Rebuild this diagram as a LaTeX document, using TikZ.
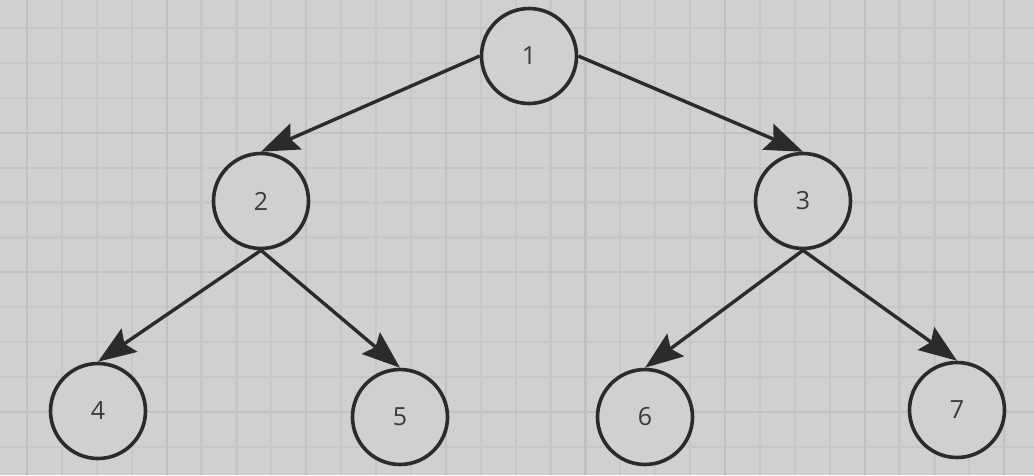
\documentclass[tikz,border=0pt]{standalone}
\usepackage{fontspec}
\setmainfont{Open Sans}
\usetikzlibrary{arrows.meta}
\definecolor{bgc}{HTML}{D0D0D0}
\definecolor{gridc}{HTML}{C7C7C7}
\definecolor{gridmaj}{HTML}{C1C1C1}
\definecolor{inkc}{HTML}{2B2B2B}
\definecolor{txtc}{HTML}{3A3A3A}
\tikzset{
  treenode/.style={circle, draw=inkc, line width=3.6pt, fill=bgc, minimum size=95pt, inner sep=0pt,
    text=txtc, font=\fontsize{25}{30}\selectfont},
  treeedge/.style={draw=inkc, line width=3.4pt, -{Stealth[length=38pt, width=28pt, inset=6pt]}}
}
\begin{document}
\begin{tikzpicture}[x=1pt,y=-1pt]
\useasboundingbox (0,0) rectangle (1034,475);
\fill[bgc] (0,0) rectangle (1034,475);
\foreach \i in {0,...,29} {
  \draw[gridc, line width=2.2pt] ({27+34.9*\i},0) -- ({27+34.9*\i},475);
}
\foreach \i in {0,...,13} {
  \draw[gridc, line width=2.2pt] (0,{28+34.9*\i}) -- (1034,{28+34.9*\i});
}
\foreach \i in {0,...,7} {
  \draw[gridmaj, line width=2.2pt] ({27+139.6*\i},0) -- ({27+139.6*\i},475);
}
\foreach \i in {0,...,2} {
  \draw[gridmaj, line width=2.2pt] (0,{132.7+139.6*\i}) -- (1034,{132.7+139.6*\i});
}
\node[treenode] (n1) at (529,56) {1};
\node[treenode] (n2) at (261,201) {2};
\node[treenode] (n3) at (803,201) {3};
\node[treenode] (n4) at (98,411) {4};
\node[treenode] (n5) at (400,417) {5};
\node[treenode] (n6) at (645,417) {6};
\node[treenode] (n7) at (957,410) {7};
\draw[treeedge] (n1.west) -- (n2.north);
\draw[treeedge] (n1.east) -- (n3.north);
\draw[treeedge] (n2.south) -- (n4.north);
\draw[treeedge] (n2.south) -- (n5.north);
\draw[treeedge] (n3.south) -- (n6.north);
\draw[treeedge] (n3.south) -- (n7.north);
\end{tikzpicture}
\end{document}
